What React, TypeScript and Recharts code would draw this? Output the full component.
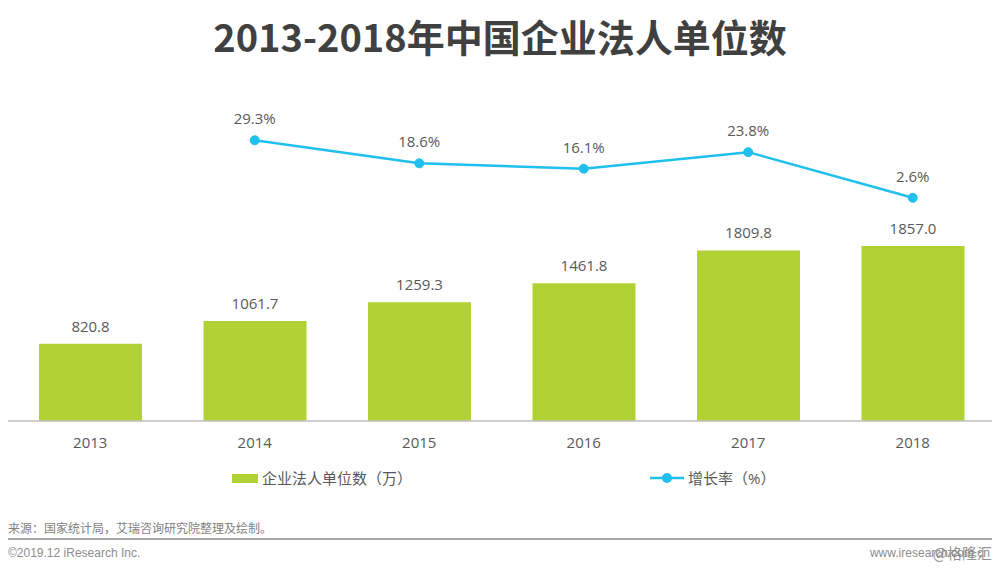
import {
  ComposedChart,
  Bar,
  Line,
  XAxis,
  YAxis,
  LabelList,
} from "recharts";

const years = ["2013", "2014", "2015", "2016", "2017", "2018"];
const units = [820.8, 1061.7, 1259.3, 1461.8, 1809.8, 1857.0];
const growth: (number | null)[] = [null, 29.3, 18.6, 16.1, 23.8, 2.6];

const chartData = years.map((year, i) => ({
  year,
  units: units[i],
  growth: growth[i],
}));

const GREEN = "#b0d235";
const CYAN = "#1ec0ee";
const TEXT = "#595959";
const FONT = '"Open Sans", "Noto Sans CJK SC", sans-serif';

export default function App() {
  return (
    <div
      style={{
        position: "relative",
        width: 1000,
        height: 572,
        margin: -8,
        background: "#fff",
        fontFamily: FONT,
        overflow: "hidden",
      }}
    >
      <div
        style={{
          position: "absolute",
          top: 8,
          left: 0,
          width: 1000,
          textAlign: "center",
          fontSize: 38,
          fontWeight: 700,
          color: "#404040",
          fontFamily: '"Noto Sans CJK SC", sans-serif',
          lineHeight: "56px",
        }}
      >
        2013-2018年中国企业法人单位数
      </div>

      <ComposedChart
        width={1000}
        height={572}
        data={chartData}
        margin={{ top: 44, right: 5, bottom: 121, left: 8 }}
      >
        <XAxis
          dataKey="year"
          axisLine={{ stroke: "#bfbfbf", strokeWidth: 1.5 }}
          tickLine={false}
          tickMargin={10}
          height={30}
          tick={{ fontSize: 15, fill: TEXT, fontFamily: FONT }}
        />
        <YAxis yAxisId="units" hide domain={[0, 4000]} />
        <YAxis yAxisId="growth" hide domain={[-101, 74]} />
        <Bar
          yAxisId="units"
          dataKey="units"
          fill={GREEN}
          barSize={103}
          isAnimationActive={false}
        >
          <LabelList
            dataKey="units"
            position="top"
            offset={12}
            formatter={(v: any) => Number(v).toFixed(1)}
            style={{ fontSize: 15, fill: TEXT, fontFamily: FONT }}
          />
        </Bar>
        <Line
          yAxisId="growth"
          dataKey="growth"
          stroke={CYAN}
          strokeWidth={2.5}
          dot={{ r: 4.5, fill: CYAN, stroke: CYAN, strokeWidth: 1 }}
          isAnimationActive={false}
          connectNulls={false}
        >
          <LabelList
            dataKey="growth"
            position="top"
            offset={16}
            formatter={(v: any) => (v == null ? "" : `${Number(v).toFixed(1)}%`)}
            style={{ fontSize: 15, fill: TEXT, fontFamily: FONT }}
          />
        </Line>
      </ComposedChart>

      {/* legend */}
      <div
        style={{
          position: "absolute",
          top: 468,
          left: 232,
          display: "flex",
          alignItems: "center",
          fontSize: 15,
          color: TEXT,
          lineHeight: "20px",
        }}
      >
        <span
          style={{
            display: "inline-block",
            width: 26,
            height: 9,
            background: GREEN,
            marginRight: 4,
          }}
        />
        企业法人单位数（万）
      </div>
      <div
        style={{
          position: "absolute",
          top: 468,
          left: 650,
          display: "flex",
          alignItems: "center",
          fontSize: 15,
          color: TEXT,
          lineHeight: "20px",
        }}
      >
        <svg width={36} height={20} style={{ marginRight: 2 }}>
          <line x1={0} y1={10} x2={34} y2={10} stroke={CYAN} strokeWidth={2.5} />
          <circle cx={17} cy={10} r={5} fill={CYAN} />
        </svg>
        增长率（%）
      </div>

      {/* footer */}
      <div
        style={{
          position: "absolute",
          top: 520,
          left: 8,
          fontSize: 12,
          color: "#7f7f7f",
          fontFamily: '"Noto Sans CJK SC", sans-serif',
          lineHeight: "16px",
        }}
      >
        来源：国家统计局，艾瑞咨询研究院整理及绘制。
      </div>
      <div
        style={{
          position: "absolute",
          top: 538,
          left: 6,
          width: 989,
          height: 2,
          background: "#a6a6a6",
        }}
      />
      <div
        style={{
          position: "absolute",
          top: 545,
          left: 8,
          fontSize: 12,
          color: "#8c8c8c",
          fontFamily: '"Liberation Sans", Arial, sans-serif',
          lineHeight: "16px",
        }}
      >
        ©2019.12 iResearch Inc.
      </div>
      <div
        style={{
          position: "absolute",
          top: 545,
          right: 10,
          fontSize: 12,
          color: "#8c8c8c",
          fontFamily: '"Liberation Sans", Arial, sans-serif',
          lineHeight: "16px",
        }}
      >
        www.iresearch.com.cn
      </div>
      <div
        style={{
          position: "absolute",
          top: 543,
          right: 8,
          fontSize: 15,
          color: "rgba(120,120,120,0.8)",
          fontFamily: '"Noto Sans CJK SC", sans-serif',
          lineHeight: "20px",
        }}
      >
        @格隆汇
      </div>
    </div>
  );
}
